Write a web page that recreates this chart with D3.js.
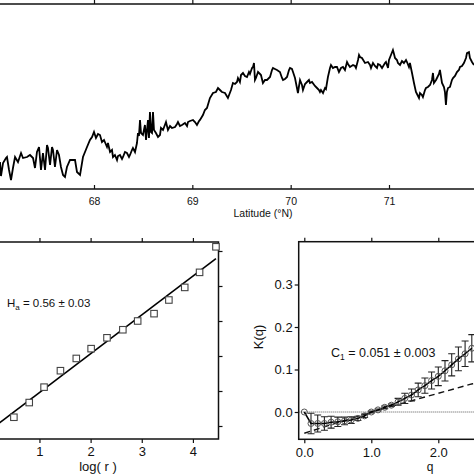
<!DOCTYPE html>
<html>
<head>
<meta charset="utf-8">
<script src="https://cdn.jsdelivr.net/npm/d3@7"></script>
<style>
  body { margin: 0; background: #fff; }
  svg { display: block; font-family: "Liberation Sans", Arial, sans-serif; }
  .axis path, .axis line { stroke: #111; }
  .axis text { fill: #111; }
</style>
</head>
<body>
<svg id="chart" width="474" height="474" viewBox="0 0 474 474"></svg>
<script>
// ---- data ----
// along-track profile: [latitude (°N), height (arbitrary units)]
const profile = [
  [67.044,27],[67.054,13],[67.075,26],[67.105,31],[67.115,32],[67.136,19],[67.156,9],[67.176,21],[67.197,32],[67.227,27],
  [67.258,36],[67.278,31],[67.319,32],[67.349,34],[67.380,31],[67.400,21],[67.420,37],[67.441,42],[67.461,19],[67.481,36],
  [67.502,19],[67.522,44],[67.532,41],[67.553,24],[67.573,42],[67.583,39],[67.603,22],[67.624,39],[67.644,34],[67.664,22],
  [67.685,14],[67.705,12],[67.725,22],[67.756,29],[67.807,29],[67.827,17],[67.858,14],
  [67.888,32],[67.929,42],[67.959,49],[67.980,52],[68.000,57],[68.020,51],[68.041,55],[68.061,54],[68.081,47],[68.102,49],
  [68.132,42],[68.142,46],[68.163,37],[68.183,39],[68.193,32],[68.213,34],[68.234,29],[68.244,33],[68.264,34],[68.285,30],
  [68.295,32],[68.315,37],[68.335,36],[68.356,32],[68.366,34],[68.386,39],[68.396,41],[68.417,37],[68.437,46],[68.447,56],
  [68.457,53],[68.468,69],[68.478,56],[68.498,54],[68.518,64],[68.529,49],[68.539,59],[68.549,69],[68.559,51],[68.569,77],
  [68.580,57],[68.590,56],[68.600,77],[68.610,59],[68.630,56],[68.651,52],[68.671,54],
  [68.681,61],[68.702,59],[68.732,67],[68.752,59],[68.773,63],[68.793,61],[68.824,62],[68.844,65],[68.854,67],[68.874,63],
  [68.895,64],[68.925,66],[68.946,63],[68.956,67],[68.976,68],[69.007,69],[69.027,67],[69.047,64],[69.068,68],[69.078,69],
  [69.108,74],[69.128,79],[69.149,81],[69.179,91],[69.210,96],[69.240,97],[69.261,101],[69.281,99],[69.301,97],[69.332,96],
  [69.362,91],[69.393,99],[69.413,106],[69.434,105],[69.454,107],[69.464,111],[69.484,107],
  [69.495,114],[69.515,116],[69.535,113],[69.556,112],[69.576,117],[69.586,115],[69.607,121],[69.617,122],[69.627,126],[69.637,109],
  [69.647,111],[69.668,117],[69.688,115],[69.698,114],[69.718,106],[69.739,109],[69.759,109],[69.790,112],[69.810,119],[69.820,121],
  [69.840,120],[69.861,119],[69.891,117],[69.912,111],[69.922,109],[69.942,110],[69.963,112],[69.983,119],[69.993,121],[70.013,120],
  [70.024,117],[70.044,111],[70.054,106],[70.074,96],[70.085,103],[70.095,109],[70.115,104],[70.125,99],[70.146,105],[70.166,107],
  [70.186,109],[70.196,106],[70.217,107],[70.247,103],[70.268,101],[70.288,99],[70.298,97],
  [70.308,99],[70.329,96],[70.349,101],[70.359,100],[70.379,112],[70.400,121],[70.410,124],[70.430,121],[70.451,122],[70.471,122],
  [70.491,117],[70.512,121],[70.532,122],[70.552,119],[70.573,127],[70.583,125],[70.603,122],[70.634,124],[70.654,123],[70.664,121],
  [70.685,129],[70.695,134],[70.705,132],[70.725,131],[70.756,126],[70.786,127],[70.807,124],[70.817,121],[70.837,126],[70.857,123],
  [70.878,121],[70.888,125],[70.908,124],[70.929,121],[70.959,126],[70.969,127],[70.990,121],[71.000,129],[71.020,134],[71.040,139],
  [71.051,135],[71.061,131],[71.081,129],[71.091,126],[71.112,124],
  [71.132,128],[71.152,126],[71.173,129],[71.183,127],[71.203,122],[71.213,126],[71.234,116],[71.254,106],[71.274,97],[71.295,93],
  [71.305,91],[71.315,96],[71.335,94],[71.345,92],[71.366,99],[71.376,101],[71.396,102],[71.417,104],[71.437,109],[71.447,116],
  [71.457,106],[71.478,109],[71.488,111],[71.508,115],[71.518,119],[71.539,106],[71.559,102],[71.569,97],[71.579,84],[71.589,97],
  [71.600,101],[71.620,102],[71.640,109],[71.651,111],[71.671,113],[71.691,117],[71.711,119],[71.722,122],[71.742,123],[71.762,126],
  [71.783,131],[71.793,136],[71.813,137],[71.823,131],[71.844,127],[71.864,124]
];
const latTicks = [68, 69, 70, 71];

// structure function (bottom left)
const logR = [0.50, 0.80, 1.09, 1.41, 1.72, 2.01, 2.32, 2.63, 2.92, 3.24, 3.53, 3.84, 4.13, 4.45];
const logS = [0.25, 0.67, 1.11, 1.58, 1.93, 2.21, 2.52, 2.75, 3.00, 3.21, 3.60, 3.96, 4.39, 5.12];
const fitR = [0, 4.45];
const fitS = [-0.155, 4.785];
const logRTicks = [1, 2, 3, 4];
const logSTicks = [0, 1, 2, 3, 4, 5];

// moment scaling function (bottom right)
const qVals = [0, 0.1, 0.2, 0.3, 0.4, 0.5, 0.6, 0.7, 0.8, 0.9, 1.0, 1.1, 1.2, 1.3, 1.4, 1.5, 1.6, 1.7, 1.8, 1.9, 2.0, 2.1, 2.2, 2.3, 2.4, 2.5];
const kVals = [0, -0.027, -0.027, -0.027, -0.024, -0.023, -0.021, -0.019, -0.015, -0.009, 0.000, 0.005, 0.011, 0.016, 0.024, 0.032, 0.040, 0.052, 0.062, 0.074, 0.084, 0.097, 0.111, 0.125, 0.137, 0.150];
const kErr = [0, 0.024, 0.020, 0.016, 0.014, 0.011, 0.009, 0.008, 0.005, 0.004, 0.002, 0.002, 0.003, 0.003, 0.008, 0.012, 0.014, 0.016, 0.018, 0.020, 0.022, 0.024, 0.026, 0.028, 0.030, 0.032];
const qModel = [0, 0.5, 1.0, 1.5, 2.0, 2.5, 2.6];
const kModel = [-0.05, -0.025, 0, 0.022, 0.044, 0.066, 0.070];
const qTicks = [0, 1, 2];
const kTicks = [0, 0.1, 0.2, 0.3];

const svg = d3.select("#chart");

// ================= top panel: profile =================
const xTop = d3.scaleLinear().domain([68, 71]).range([94, 389]);
const yTop = d3.scaleLinear().domain([0, 185]).range([189, 4]);

const topPanel = svg.append("g").attr("class", "top-panel");

topPanel.append("path")
    .datum(profile)
    .attr("fill", "none")
    .attr("stroke", "#000")
    .attr("stroke-width", 1.8)
    .attr("stroke-linejoin", "miter")
    .attr("d", d3.line().x(d => xTop(d[0])).y(d => yTop(d[1])));

// upper frame line with outward ticks
topPanel.append("line").attr("x1", 0).attr("x2", 474).attr("y1", 4).attr("y2", 4)
    .attr("stroke", "#111").attr("stroke-width", 1.5);
topPanel.append("g")
    .attr("class", "axis")
    .attr("transform", "translate(0,4)")
    .call(d3.axisTop(xTop).tickValues(latTicks).tickFormat("").tickSize(4))
    .call(g => g.select(".domain").remove())
    .selectAll("line").attr("stroke-width", 1.2);

// lower axis
topPanel.append("line").attr("x1", 0).attr("x2", 474).attr("y1", 189).attr("y2", 189)
    .attr("stroke", "#111").attr("stroke-width", 1.5);
topPanel.append("g")
    .attr("class", "axis")
    .attr("transform", "translate(0,189)")
    .call(d3.axisBottom(xTop).tickValues(latTicks).tickFormat(d3.format("d")).tickSize(-4).tickPadding(9))
    .call(g => g.select(".domain").remove())
    .call(g => g.selectAll("text").attr("font-size", 10.5).attr("font-family", null))
    .selectAll("line").attr("stroke-width", 1.2);

topPanel.append("text")
    .attr("x", 263).attr("y", 217)
    .attr("text-anchor", "middle")
    .attr("font-size", 10.5)
    .attr("fill", "#111")
    .text("Latitude (°N)");

// ================= bottom left: structure function =================
const xL = d3.scaleLinear().domain([0, 4.5]).range([-11.7, 218.5]);
const yL = d3.scaleLinear().domain([0, 5]).range([426, 251]);
const frameL = { top: 242, bottom: 439 };

const leftPanel = svg.append("g").attr("class", "left-panel");

leftPanel.append("rect")
    .attr("x", xL.range()[0]).attr("y", frameL.top)
    .attr("width", xL.range()[1] - xL.range()[0])
    .attr("height", frameL.bottom - frameL.top)
    .attr("fill", "none").attr("stroke", "#111").attr("stroke-width", 1.5);

leftPanel.append("g").attr("class", "axis")
    .attr("transform", `translate(0,${frameL.bottom})`)
    .call(d3.axisBottom(xL).tickValues(logRTicks).tickFormat(d3.format("d")).tickSize(4).tickPadding(4))
    .call(g => g.select(".domain").remove())
    .call(g => g.selectAll("text").attr("font-size", 13).attr("font-family", null))
    .selectAll("line").attr("stroke-width", 1.2);

leftPanel.append("g").attr("class", "axis")
    .attr("transform", `translate(0,${frameL.top})`)
    .call(d3.axisTop(xL).tickValues(logRTicks).tickFormat("").tickSize(4))
    .call(g => g.select(".domain").remove())
    .selectAll("line").attr("stroke-width", 1.2);

leftPanel.append("g").attr("class", "axis")
    .attr("transform", `translate(${xL.range()[1]},0)`)
    .call(d3.axisRight(yL).tickValues(logSTicks).tickFormat("").tickSize(4))
    .call(g => g.select(".domain").remove())
    .selectAll("line").attr("stroke-width", 1.2);

leftPanel.append("line")
    .attr("x1", xL(fitR[0])).attr("y1", yL(fitS[0]))
    .attr("x2", xL(fitR[1])).attr("y2", yL(fitS[1]))
    .attr("stroke", "#000").attr("stroke-width", 1.6);

const sq = 6.5;
leftPanel.selectAll(".sq")
    .data(logR.map((r, i) => [r, logS[i]]))
    .enter()
    .append("rect")
    .attr("class", "sq")
    .attr("x", d => xL(d[0]) - sq / 2)
    .attr("y", d => yL(d[1]) - sq / 2)
    .attr("width", sq).attr("height", sq)
    .attr("fill", "#fff")
    .attr("stroke", "#444").attr("stroke-width", 1.1);

const hText = leftPanel.append("text")
    .attr("x", 7).attr("y", 307)
    .attr("font-size", 11.5).attr("fill", "#111");
hText.append("tspan").text("H");
hText.append("tspan").attr("font-size", 8).attr("dy", 2.5).text("a");
hText.append("tspan").attr("dy", -2.5).text(" = 0.56 ± 0.03");

leftPanel.append("text")
    .attr("x", 98).attr("y", 471)
    .attr("text-anchor", "middle")
    .attr("font-size", 13).attr("fill", "#111")
    .text("log( r )");

// ================= bottom right: K(q) =================
const xR = d3.scaleLinear().domain([0, 2]).range([304.3, 438.3]);
const yR = d3.scaleLinear().domain([0, 0.3]).range([412, 284.5]);
const frameR = { left: 298.7, right: 520, top: 241.7, bottom: 439.3 };

const rightPanel = svg.append("g").attr("class", "right-panel");

rightPanel.append("defs").append("clipPath").attr("id", "clipR")
    .append("rect")
    .attr("x", frameR.left).attr("y", frameR.top)
    .attr("width", frameR.right - frameR.left)
    .attr("height", frameR.bottom - frameR.top);

rightPanel.append("rect")
    .attr("x", frameR.left).attr("y", frameR.top)
    .attr("width", frameR.right - frameR.left)
    .attr("height", frameR.bottom - frameR.top)
    .attr("fill", "none").attr("stroke", "#111").attr("stroke-width", 1.5);

rightPanel.append("g").attr("class", "axis")
    .attr("transform", `translate(0,${frameR.bottom})`)
    .call(d3.axisBottom(xR).tickValues(qTicks).tickFormat(d3.format(".1f")).tickSize(4).tickPadding(4))
    .call(g => g.select(".domain").remove())
    .call(g => g.selectAll("text").attr("font-size", 13).attr("font-family", null))
    .selectAll("line").attr("stroke-width", 1.2);

rightPanel.append("g").attr("class", "axis")
    .attr("transform", `translate(0,${frameR.top})`)
    .call(d3.axisTop(xR).tickValues(qTicks).tickFormat("").tickSize(4))
    .call(g => g.select(".domain").remove())
    .selectAll("line").attr("stroke-width", 1.2);

rightPanel.append("g").attr("class", "axis")
    .attr("transform", `translate(${frameR.left},0)`)
    .call(d3.axisLeft(yR).tickValues(kTicks).tickFormat(d3.format(".1f")).tickSize(4).tickPadding(2))
    .call(g => g.select(".domain").remove())
    .call(g => g.selectAll("text").attr("font-size", 13).attr("font-family", null))
    .selectAll("line").attr("stroke-width", 1.2);

const plotR = rightPanel.append("g").attr("clip-path", "url(#clipR)");

// zero reference
plotR.append("line")
    .attr("x1", frameR.left).attr("x2", frameR.right)
    .attr("y1", yR(0)).attr("y2", yR(0))
    .attr("stroke", "#555").attr("stroke-width", 1)
    .attr("stroke-dasharray", "1,1");

// model (dashed)
plotR.append("path")
    .datum(qModel.map((q, i) => [q, kModel[i]]))
    .attr("fill", "none").attr("stroke", "#111").attr("stroke-width", 1.4)
    .attr("stroke-dasharray", "6,4")
    .attr("d", d3.line().x(d => xR(d[0])).y(d => yR(d[1])));

const kData = qVals.map((q, i) => ({ q: q, k: kVals[i], e: kErr[i] }));

// error bars
const cap = 3.5;
const bars = plotR.selectAll(".err")
    .data(kData.filter(d => d.e > 0))
    .enter().append("g").attr("class", "err")
    .attr("stroke", "#222").attr("stroke-width", 1.1);
bars.append("line")
    .attr("x1", d => xR(d.q)).attr("x2", d => xR(d.q))
    .attr("y1", d => yR(d.k - d.e)).attr("y2", d => yR(d.k + d.e));
bars.append("line")
    .attr("x1", d => xR(d.q) - cap).attr("x2", d => xR(d.q) + cap)
    .attr("y1", d => yR(d.k - d.e)).attr("y2", d => yR(d.k - d.e));
bars.append("line")
    .attr("x1", d => xR(d.q) - cap).attr("x2", d => xR(d.q) + cap)
    .attr("y1", d => yR(d.k + d.e)).attr("y2", d => yR(d.k + d.e));

// empirical curve
plotR.append("path")
    .datum(kData)
    .attr("fill", "none").attr("stroke", "#000").attr("stroke-width", 1.5)
    .attr("d", d3.line().x(d => xR(d.q)).y(d => yR(d.k)));

plotR.selectAll(".pt")
    .data(kData)
    .enter().append("circle")
    .attr("class", "pt")
    .attr("cx", d => xR(d.q)).attr("cy", d => yR(d.k))
    .attr("r", 3)
    .attr("fill", "none").attr("stroke", "#555").attr("stroke-width", 1);

const cText = rightPanel.append("text")
    .attr("x", 331).attr("y", 357)
    .attr("font-size", 12.5).attr("fill", "#111");
cText.append("tspan").text("C");
cText.append("tspan").attr("font-size", 8.5).attr("dy", 2.5).text("1");
cText.append("tspan").attr("dy", -2.5).text("  = 0.051 ± 0.003");

rightPanel.append("text")
    .attr("transform", "translate(263,337) rotate(-90)")
    .attr("text-anchor", "middle")
    .attr("font-size", 13).attr("fill", "#111")
    .text("K(q)");

rightPanel.append("text")
    .attr("x", 430).attr("y", 471)
    .attr("text-anchor", "middle")
    .attr("font-size", 12).attr("fill", "#111")
    .text("q");
</script>
</body>
</html>
